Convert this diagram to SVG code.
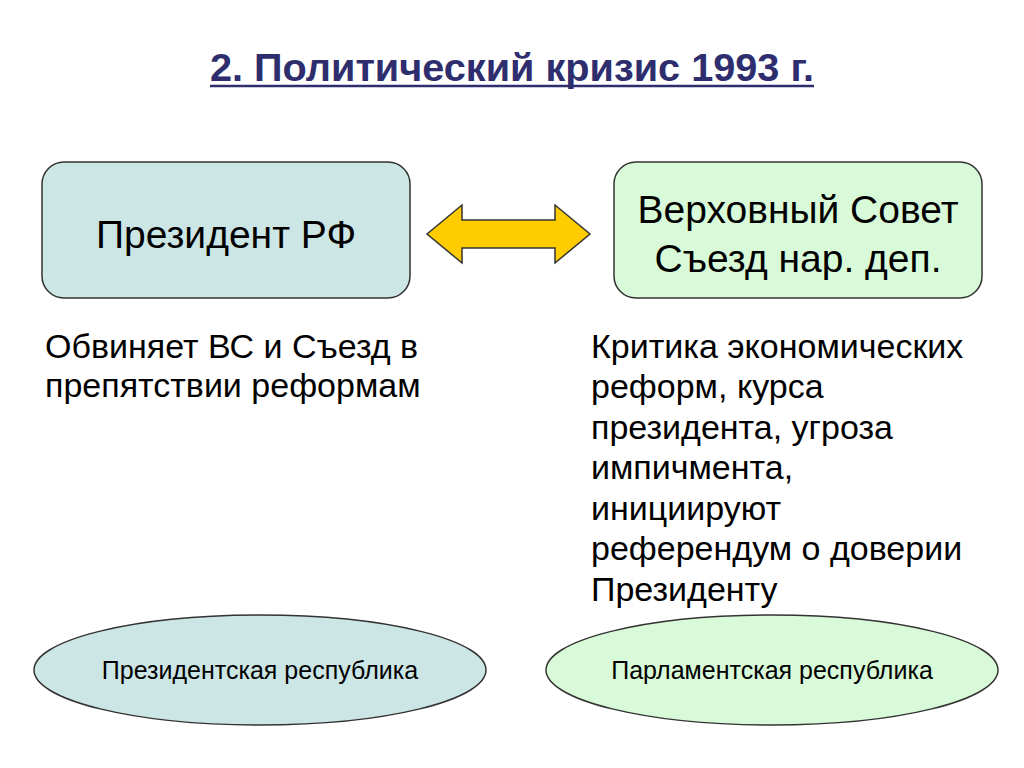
<svg xmlns="http://www.w3.org/2000/svg" width="1024" height="768" viewBox="0 0 1024 768">
<style>
.t{font-family:"Liberation Sans",Arial,sans-serif;fill:#000}
.b{stroke:#333;stroke-width:1.5}
</style>
<rect width="1024" height="768" fill="#fff"/>
<text class="t" x="512" y="81" text-anchor="middle" font-size="38" font-weight="bold" style="fill:#2e2e6e" textLength="604" lengthAdjust="spacingAndGlyphs">2. Политический кризис 1993 г.</text>
<line x1="210" y1="86" x2="814" y2="86" stroke="#2e2e6e" stroke-width="2.5"/>
<g id="president">
<rect class="b" x="42" y="162" width="368" height="136" rx="22" fill="#cce6e6"/>
<text class="t" x="226" y="248" text-anchor="middle" font-size="39">Президент РФ</text>
</g>
<g id="soviet">
<rect class="b" x="614" y="162" width="368" height="136" rx="22" fill="#d8fad8"/>
<text class="t" x="798" y="223" text-anchor="middle" font-size="39">Верховный Совет</text>
<text class="t" x="798" y="272" text-anchor="middle" font-size="39">Съезд нар. деп.</text>
</g>
<g id="connectors">
<polygon class="b" fill="#ffcc00" points="427,234 462,205 462,220 555,220 555,205 590,234 555,263 555,248 462,248 462,263"/>
</g>
<g id="left-text" font-size="34">
<text class="t" x="45" y="358">Обвиняет ВС и Съезд в</text>
<text class="t" x="45" y="397">препятствии реформам</text>
</g>
<g id="right-text" font-size="34">
<text class="t" x="591" y="358">Критика экономических</text>
<text class="t" x="591" y="398">реформ, курса</text>
<text class="t" x="591" y="439">президента, угроза</text>
<text class="t" x="591" y="479">импичмента,</text>
<text class="t" x="591" y="520">инициируют</text>
<text class="t" x="591" y="560">референдум о доверии</text>
<text class="t" x="591" y="601">Президенту</text>
</g>
<g id="presidential">
<ellipse class="b" cx="260" cy="670" rx="226" ry="55" fill="#cce6e6"/>
<text class="t" x="260" y="679" text-anchor="middle" font-size="25">Президентская республика</text>
</g>
<g id="parliamentary">
<ellipse class="b" cx="772" cy="670" rx="226" ry="55" fill="#d8fad8"/>
<text class="t" x="772" y="679" text-anchor="middle" font-size="25">Парламентская республика</text>
</g>
</svg>
